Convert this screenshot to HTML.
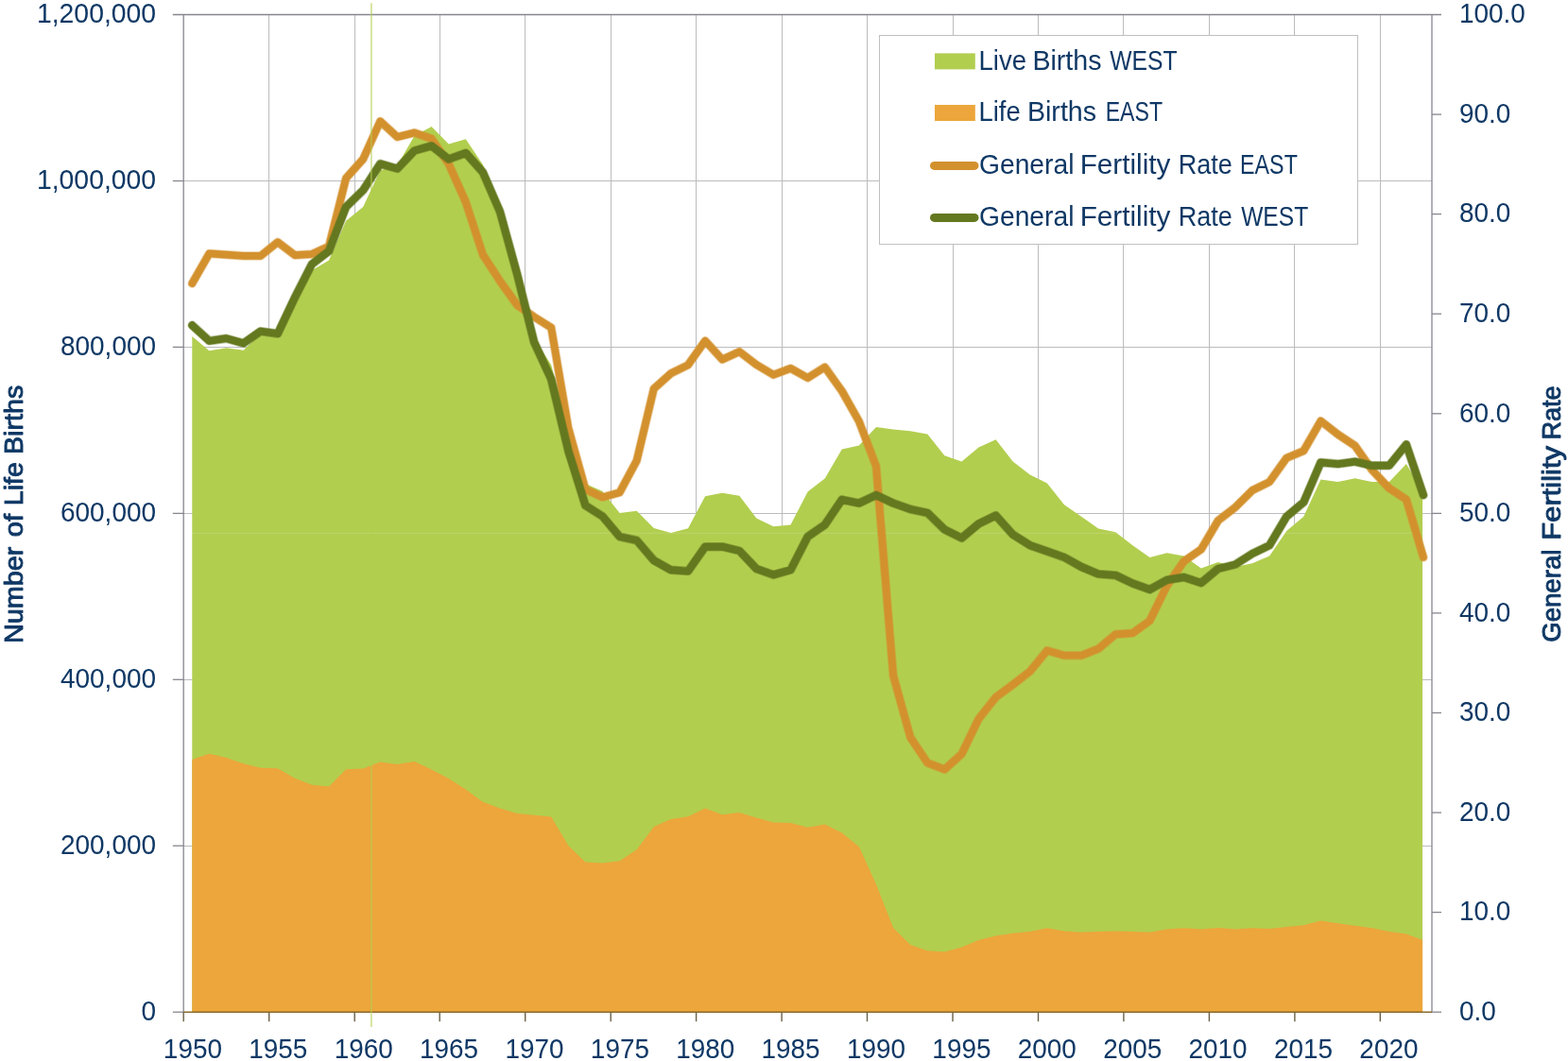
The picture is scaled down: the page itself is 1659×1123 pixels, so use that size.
<!DOCTYPE html>
<html lang="en">
<head>
<meta charset="utf-8">
<title>Live births and general fertility rate, East and West</title>
<style>
html,body{margin:0;padding:0;background:#fff;}
body{width:1659px;height:1123px;overflow:hidden;}
svg{display:block;}
text{font-family:"Liberation Sans",sans-serif;fill:#0f3865;}
.t{font-size:28.6px;}
.b{font-size:28px;stroke:#0f3865;stroke-width:0.9px;stroke-linejoin:round;}
</style>
</head>
<body>
<svg width="1659" height="1123" viewBox="0 0 1659 1123" role="img" aria-label="Number of life births and general fertility rate, East and West, 1950 to 2022">
<rect width="1659" height="1123" fill="#fff"/>
<g>
<g stroke="#bcbcbe" stroke-width="1" fill="none" shape-rendering="crispEdges">
<line x1="194.2" y1="895.2" x2="1515" y2="895.2"/>
<line x1="194.2" y1="719.3" x2="1515" y2="719.3"/>
<line x1="194.2" y1="543.4" x2="1515" y2="543.4"/>
<line x1="194.2" y1="367.4" x2="1515" y2="367.4"/>
<line x1="194.2" y1="191.5" x2="1515" y2="191.5"/>
<line x1="284.7" y1="15.5" x2="284.7" y2="1071.2"/>
<line x1="375.2" y1="15.5" x2="375.2" y2="1071.2"/>
<line x1="465.2" y1="15.5" x2="465.2" y2="1071.2"/>
<line x1="555.7" y1="15.5" x2="555.7" y2="1071.2"/>
<line x1="646.2" y1="15.5" x2="646.2" y2="1071.2"/>
<line x1="736.6" y1="15.5" x2="736.6" y2="1071.2"/>
<line x1="827.1" y1="15.5" x2="827.1" y2="1071.2"/>
<line x1="917.5" y1="15.5" x2="917.5" y2="1071.2"/>
<line x1="1008" y1="15.5" x2="1008" y2="1071.2"/>
<line x1="1098.5" y1="15.5" x2="1098.5" y2="1071.2"/>
<line x1="1188.9" y1="15.5" x2="1188.9" y2="1071.2"/>
<line x1="1279.4" y1="15.5" x2="1279.4" y2="1071.2"/>
<line x1="1369.9" y1="15.5" x2="1369.9" y2="1071.2"/>
<line x1="1460.3" y1="15.5" x2="1460.3" y2="1071.2"/>
</g>
<path d="M203.3 1071.2 L203.3 356.1 L221.4 371.3 L239.5 368.2 L257.6 370.8 L275.7 353.3 L293.8 349.7 L311.9 318.2 L329.9 286.3 L348 275.5 L366.1 233.7 L384.2 219 L402.3 180.3 L420.4 175.1 L438.5 143.8 L456.6 133.9 L474.7 152.5 L492.8 147.2 L510.9 174.3 L529 218 L547.1 276.4 L565.1 357.9 L583.2 386.3 L601.3 454.3 L619.4 512 L637.5 520.1 L655.6 542.9 L673.7 540.8 L691.8 558.9 L709.9 564.1 L728 559.2 L746.1 525.2 L764.2 521.7 L782.3 524.7 L800.3 548.5 L818.4 557.3 L836.5 555.5 L854.6 520.5 L872.7 506.4 L890.8 475.4 L908.9 471.6 L927 451.9 L945.1 454.4 L963.2 456.2 L981.3 459.5 L999.4 482.3 L1017.5 488.6 L1035.5 473.4 L1053.6 465.3 L1071.7 488.6 L1089.8 502.5 L1107.9 511.4 L1126 534.2 L1144.1 546.8 L1162.2 559.5 L1180.3 563.3 L1198.4 577.2 L1216.5 589.9 L1234.6 585.3 L1252.7 588.6 L1270.8 601.5 L1288.8 595 L1306.9 600 L1325 596.2 L1343.1 588.6 L1361.2 562 L1379.3 546.8 L1397.4 507.6 L1415.5 510.1 L1433.6 506.3 L1451.7 510.1 L1469.8 510.1 L1487.9 491.1 L1505.1 520 L1505.1 1071.2Z" fill="#b2ce4f"/>
<path d="M203.3 1071.2 L203.3 803.9 L221.4 797.8 L239.5 802 L257.6 808.2 L275.7 812.8 L293.8 813.2 L311.9 823.7 L329.9 830.7 L348 832.4 L366.1 814.3 L384.2 813.4 L402.3 806.6 L420.4 809.1 L438.5 806 L456.6 814.4 L474.7 823.9 L492.8 835.5 L510.9 848.8 L529 855.5 L547.1 861 L565.1 862.8 L583.2 864.6 L601.3 894.9 L619.4 912.5 L637.5 913.6 L655.6 911.3 L673.7 899.2 L691.8 874.9 L709.9 867 L728 864.3 L746.1 855.5 L764.2 862.2 L782.3 860 L800.3 865.6 L818.4 870.5 L836.5 870.9 L854.6 875.7 L872.7 872.4 L890.8 881.4 L908.9 896.2 L927 936 L945.1 982 L963.2 1000 L981.3 1006.3 L999.4 1007.6 L1017.5 1002.5 L1035.5 995 L1053.6 990.4 L1071.7 987.8 L1089.8 986 L1107.9 982.3 L1126 985.6 L1144.1 986.8 L1162.2 986 L1180.3 985.6 L1198.4 986 L1216.5 986.8 L1234.6 983.5 L1252.7 982.3 L1270.8 983.5 L1288.8 982 L1306.9 983.5 L1325 982.2 L1343.1 983 L1361.2 981 L1379.3 979.2 L1397.4 974.6 L1415.5 977.2 L1433.6 979.7 L1451.7 982.2 L1469.8 986 L1487.9 988.6 L1505.1 994.9 L1505.1 1071.2Z" fill="#eca63b"/>
<line x1="203.3" y1="564.3" x2="1506" y2="564.3" stroke="#fff" stroke-opacity="0.16" stroke-width="1"/>
<g stroke="#86868f" stroke-width="1.3" fill="none">
<line x1="194.2" y1="15.5" x2="194.2" y2="1071.2"/>
<line x1="1515" y1="15.5" x2="1515" y2="1071.2"/>
<line x1="182.8" y1="15.5" x2="1525" y2="15.5"/>
<line x1="182.8" y1="1071.2" x2="194.2" y2="1071.2"/>
<line x1="182.8" y1="895.2" x2="194.2" y2="895.2"/>
<line x1="182.8" y1="719.3" x2="194.2" y2="719.3"/>
<line x1="182.8" y1="543.4" x2="194.2" y2="543.4"/>
<line x1="182.8" y1="367.4" x2="194.2" y2="367.4"/>
<line x1="182.8" y1="191.5" x2="194.2" y2="191.5"/>
<line x1="1515" y1="1071.2" x2="1525" y2="1071.2"/>
<line x1="1515" y1="965.6" x2="1525" y2="965.6"/>
<line x1="1515" y1="860.1" x2="1525" y2="860.1"/>
<line x1="1515" y1="754.5" x2="1525" y2="754.5"/>
<line x1="1515" y1="648.9" x2="1525" y2="648.9"/>
<line x1="1515" y1="543.4" x2="1525" y2="543.4"/>
<line x1="1515" y1="437.8" x2="1525" y2="437.8"/>
<line x1="1515" y1="332.2" x2="1525" y2="332.2"/>
<line x1="1515" y1="226.6" x2="1525" y2="226.6"/>
<line x1="1515" y1="121.1" x2="1525" y2="121.1"/>
</g>
<g stroke="#8a6b2e" stroke-width="1.5" fill="none">
<line x1="194.2" y1="1071.2" x2="1515" y2="1071.2"/>
</g>
<g stroke="#6b6046" stroke-width="1.4" fill="none">
<line x1="194.2" y1="1071.2" x2="194.2" y2="1081.2"/>
<line x1="284.7" y1="1071.2" x2="284.7" y2="1081.2"/>
<line x1="375.2" y1="1071.2" x2="375.2" y2="1081.2"/>
<line x1="465.2" y1="1071.2" x2="465.2" y2="1081.2"/>
<line x1="555.7" y1="1071.2" x2="555.7" y2="1081.2"/>
<line x1="646.2" y1="1071.2" x2="646.2" y2="1081.2"/>
<line x1="736.6" y1="1071.2" x2="736.6" y2="1081.2"/>
<line x1="827.1" y1="1071.2" x2="827.1" y2="1081.2"/>
<line x1="917.5" y1="1071.2" x2="917.5" y2="1081.2"/>
<line x1="1008" y1="1071.2" x2="1008" y2="1081.2"/>
<line x1="1098.5" y1="1071.2" x2="1098.5" y2="1081.2"/>
<line x1="1188.9" y1="1071.2" x2="1188.9" y2="1081.2"/>
<line x1="1279.4" y1="1071.2" x2="1279.4" y2="1081.2"/>
<line x1="1369.9" y1="1071.2" x2="1369.9" y2="1081.2"/>
<line x1="1460.3" y1="1071.2" x2="1460.3" y2="1081.2"/>
</g>
<g fill="none" stroke-linejoin="round" stroke-linecap="round">
<path d="M203.3 300 L221.4 268.4 L239.5 269.6 L257.6 270.9 L275.7 270.9 L293.8 256.3 L311.9 270.1 L329.9 269 L348 260.8 L366.1 188.6 L384.2 168.4 L402.3 128.4 L420.4 145 L438.5 140.5 L456.6 146.8 L474.7 173.4 L492.8 213.9 L510.9 269.6 L529 297.5 L547.1 322.8 L565.1 335.4 L583.2 346.8 L601.3 453 L619.4 518 L637.5 526.3 L655.6 521.3 L673.7 487.5 L691.8 411.4 L709.9 395.2 L728 386.3 L746.1 360.8 L764.2 380.5 L782.3 372.2 L800.3 386 L818.4 396.7 L836.5 389.9 L854.6 400 L872.7 388.6 L890.8 413.9 L908.9 446 L927 493.5 L945.1 715 L963.2 780.3 L981.3 807.5 L999.4 814.4 L1017.5 798 L1035.5 760.8 L1053.6 738 L1071.7 724.6 L1089.8 710.6 L1107.9 688.6 L1126 693.8 L1144.1 693.8 L1162.2 686.6 L1180.3 671.4 L1198.4 670.1 L1216.5 657 L1234.6 620 L1252.7 594 L1270.8 581.5 L1288.8 551 L1306.9 537 L1325 519 L1343.1 510.1 L1361.2 484.8 L1379.3 477.2 L1397.4 445.6 L1415.5 459.8 L1433.6 471.7 L1451.7 497.5 L1469.8 516.8 L1487.9 528.6 L1506 589.9" stroke="#d3912e" stroke-width="9.4" stroke-opacity="0.5"/>
<path d="M203.3 300 L221.4 268.4 L239.5 269.6 L257.6 270.9 L275.7 270.9 L293.8 256.3 L311.9 270.1 L329.9 269 L348 260.8 L366.1 188.6 L384.2 168.4 L402.3 128.4 L420.4 145 L438.5 140.5 L456.6 146.8 L474.7 173.4 L492.8 213.9 L510.9 269.6 L529 297.5 L547.1 322.8 L565.1 335.4 L583.2 346.8 L601.3 453 L619.4 518 L637.5 526.3 L655.6 521.3 L673.7 487.5 L691.8 411.4 L709.9 395.2 L728 386.3 L746.1 360.8 L764.2 380.5 L782.3 372.2 L800.3 386 L818.4 396.7 L836.5 389.9 L854.6 400 L872.7 388.6 L890.8 413.9 L908.9 446 L927 493.5 L945.1 715 L963.2 780.3 L981.3 807.5 L999.4 814.4 L1017.5 798 L1035.5 760.8 L1053.6 738 L1071.7 724.6 L1089.8 710.6 L1107.9 688.6 L1126 693.8 L1144.1 693.8 L1162.2 686.6 L1180.3 671.4 L1198.4 670.1 L1216.5 657 L1234.6 620 L1252.7 594 L1270.8 581.5 L1288.8 551 L1306.9 537 L1325 519 L1343.1 510.1 L1361.2 484.8 L1379.3 477.2 L1397.4 445.6 L1415.5 459.8 L1433.6 471.7 L1451.7 497.5 L1469.8 516.8 L1487.9 528.6 L1506 589.9" stroke="#d3912e" stroke-width="7.6"/>
<path d="M203.3 344.3 L221.4 360.8 L239.5 358.2 L257.6 363.3 L275.7 350.6 L293.8 353.2 L311.9 315 L329.9 279.7 L348 265.8 L366.1 219 L384.2 201.3 L402.3 173.4 L420.4 178.5 L438.5 159.5 L456.6 154.4 L474.7 168.4 L492.8 162 L510.9 182.3 L529 224 L547.1 289.9 L565.1 362 L583.2 401.3 L601.3 477.2 L619.4 535 L637.5 546.5 L655.6 568 L673.7 572 L691.8 593.2 L709.9 603.3 L728 604.6 L746.1 578.7 L764.2 578.7 L782.3 583 L800.3 602 L818.4 608.4 L836.5 603.3 L854.6 568 L872.7 555.5 L890.8 528.8 L908.9 532.6 L927 524 L945.1 532.6 L963.2 539 L981.3 542.8 L999.4 560.5 L1017.5 569.5 L1035.5 554.4 L1053.6 545.6 L1071.7 565.8 L1089.8 577.2 L1107.9 583.5 L1126 589.9 L1144.1 600 L1162.2 607.6 L1180.3 608.9 L1198.4 617.5 L1216.5 624 L1234.6 613.9 L1252.7 611 L1270.8 617 L1288.8 602 L1306.9 597.5 L1325 586 L1343.1 577.2 L1361.2 546.8 L1379.3 531.6 L1397.4 489.4 L1415.5 491.1 L1433.6 488.6 L1451.7 492.8 L1469.8 492.8 L1487.9 470.4 L1506 524" stroke="#64781f" stroke-width="9.5" stroke-opacity="0.5"/>
<path d="M203.3 344.3 L221.4 360.8 L239.5 358.2 L257.6 363.3 L275.7 350.6 L293.8 353.2 L311.9 315 L329.9 279.7 L348 265.8 L366.1 219 L384.2 201.3 L402.3 173.4 L420.4 178.5 L438.5 159.5 L456.6 154.4 L474.7 168.4 L492.8 162 L510.9 182.3 L529 224 L547.1 289.9 L565.1 362 L583.2 401.3 L601.3 477.2 L619.4 535 L637.5 546.5 L655.6 568 L673.7 572 L691.8 593.2 L709.9 603.3 L728 604.6 L746.1 578.7 L764.2 578.7 L782.3 583 L800.3 602 L818.4 608.4 L836.5 603.3 L854.6 568 L872.7 555.5 L890.8 528.8 L908.9 532.6 L927 524 L945.1 532.6 L963.2 539 L981.3 542.8 L999.4 560.5 L1017.5 569.5 L1035.5 554.4 L1053.6 545.6 L1071.7 565.8 L1089.8 577.2 L1107.9 583.5 L1126 589.9 L1144.1 600 L1162.2 607.6 L1180.3 608.9 L1198.4 617.5 L1216.5 624 L1234.6 613.9 L1252.7 611 L1270.8 617 L1288.8 602 L1306.9 597.5 L1325 586 L1343.1 577.2 L1361.2 546.8 L1379.3 531.6 L1397.4 489.4 L1415.5 491.1 L1433.6 488.6 L1451.7 492.8 L1469.8 492.8 L1487.9 470.4 L1506 524" stroke="#64781f" stroke-width="7.9"/>
</g>
<line x1="392.9" y1="3.2" x2="392.9" y2="1087" stroke="#b2ce4f" stroke-width="1.4" stroke-opacity="0.75"/>
<rect x="930.2" y="37.2" width="506.3" height="221.5" fill="#fff" stroke="#c0c0c2" stroke-width="1" shape-rendering="crispEdges"/>
<rect x="989" y="56.4" width="42.8" height="17" fill="#b2ce4f"/>
<rect x="989" y="111" width="42.8" height="17" fill="#eca63b"/>
<line x1="988.5" y1="175.4" x2="1031" y2="175.4" stroke="#d3912e" stroke-width="9" stroke-linecap="round"/>
<line x1="988.5" y1="230.4" x2="1031" y2="230.4" stroke="#64781f" stroke-width="9" stroke-linecap="round"/>
<text class="t" y="73.7"><tspan x="1035.53" textLength="50.5" lengthAdjust="spacingAndGlyphs">Live</tspan> <tspan x="1092.44" textLength="72.99" lengthAdjust="spacingAndGlyphs">Births</tspan> <tspan x="1174.18" textLength="71.31" lengthAdjust="spacingAndGlyphs">WEST</tspan></text>
<text class="t" y="128.2"><tspan x="1035.54" textLength="44.19" lengthAdjust="spacingAndGlyphs">Life</tspan> <tspan x="1086.94" textLength="73.09" lengthAdjust="spacingAndGlyphs">Births</tspan> <tspan x="1169.69" textLength="60.37" lengthAdjust="spacingAndGlyphs">EAST</tspan></text>
<text class="t" y="184.3"><tspan x="1035.99" textLength="100.42" lengthAdjust="spacingAndGlyphs">General</tspan> <tspan x="1142.65" textLength="95.82" lengthAdjust="spacingAndGlyphs">Fertility</tspan> <tspan x="1246.77" textLength="57.15" lengthAdjust="spacingAndGlyphs">Rate</tspan> <tspan x="1312.08" textLength="60.79" lengthAdjust="spacingAndGlyphs">EAST</tspan></text>
<text class="t" y="239.3"><tspan x="1035.99" textLength="100.42" lengthAdjust="spacingAndGlyphs">General</tspan> <tspan x="1142.65" textLength="95.82" lengthAdjust="spacingAndGlyphs">Fertility</tspan> <tspan x="1246.77" textLength="57.15" lengthAdjust="spacingAndGlyphs">Rate</tspan> <tspan x="1313.18" textLength="71.01" lengthAdjust="spacingAndGlyphs">WEST</tspan></text>
<text class="t" text-anchor="end" transform="translate(165.1 1079.9) scale(0.979 1)">0</text>
<text class="t" text-anchor="end" transform="translate(165.1 904) scale(0.979 1)">200,000</text>
<text class="t" text-anchor="end" transform="translate(165.1 728) scale(0.979 1)">400,000</text>
<text class="t" text-anchor="end" transform="translate(165.1 552.1) scale(0.979 1)">600,000</text>
<text class="t" text-anchor="end" transform="translate(165.1 376.1) scale(0.979 1)">800,000</text>
<text class="t" text-anchor="end" transform="translate(165.1 200.2) scale(0.992 1)">1,000,000</text>
<text class="t" text-anchor="end" transform="translate(165.1 24.2) scale(0.992 1)">1,200,000</text>
<text class="t" transform="translate(1544 1079.9) scale(0.977 1)">0.0</text>
<text class="t" transform="translate(1544 974.3) scale(0.977 1)">10.0</text>
<text class="t" transform="translate(1544 868.8) scale(0.977 1)">20.0</text>
<text class="t" transform="translate(1544 763.2) scale(0.977 1)">30.0</text>
<text class="t" transform="translate(1544 657.6) scale(0.977 1)">40.0</text>
<text class="t" transform="translate(1544 552.1) scale(0.977 1)">50.0</text>
<text class="t" transform="translate(1544 446.5) scale(0.977 1)">60.0</text>
<text class="t" transform="translate(1544 340.9) scale(0.977 1)">70.0</text>
<text class="t" transform="translate(1544 235.3) scale(0.977 1)">80.0</text>
<text class="t" transform="translate(1544 129.8) scale(0.977 1)">90.0</text>
<text class="t" transform="translate(1544 24.2) scale(0.977 1)">100.0</text>
<text class="t" text-anchor="middle" transform="translate(203.9 1120) scale(0.976 1)">1950</text>
<text class="t" text-anchor="middle" transform="translate(294.3 1120) scale(0.976 1)">1955</text>
<text class="t" text-anchor="middle" transform="translate(384.7 1120) scale(0.976 1)">1960</text>
<text class="t" text-anchor="middle" transform="translate(475.1 1120) scale(0.976 1)">1965</text>
<text class="t" text-anchor="middle" transform="translate(565.5 1120) scale(0.976 1)">1970</text>
<text class="t" text-anchor="middle" transform="translate(655.9 1120) scale(0.976 1)">1975</text>
<text class="t" text-anchor="middle" transform="translate(746.3 1120) scale(0.976 1)">1980</text>
<text class="t" text-anchor="middle" transform="translate(836.6 1120) scale(0.976 1)">1985</text>
<text class="t" text-anchor="middle" transform="translate(927 1120) scale(0.976 1)">1990</text>
<text class="t" text-anchor="middle" transform="translate(1017.4 1120) scale(0.976 1)">1995</text>
<text class="t" text-anchor="middle" transform="translate(1107.8 1120) scale(0.976 1)">2000</text>
<text class="t" text-anchor="middle" transform="translate(1198.2 1120) scale(0.976 1)">2005</text>
<text class="t" text-anchor="middle" transform="translate(1288.6 1120) scale(0.976 1)">2010</text>
<text class="t" text-anchor="middle" transform="translate(1379 1120) scale(0.976 1)">2015</text>
<text class="t" text-anchor="middle" transform="translate(1469.4 1120) scale(0.976 1)">2020</text>
<text class="b" transform="translate(24.2 0) rotate(-90)"><tspan x="-681.11" textLength="102.43" lengthAdjust="spacingAndGlyphs">Number</tspan> <tspan x="-568.17" textLength="24.37" lengthAdjust="spacingAndGlyphs">of</tspan> <tspan x="-535.2" textLength="46.23" lengthAdjust="spacingAndGlyphs">Life</tspan> <tspan x="-481" textLength="73.28" lengthAdjust="spacingAndGlyphs">Births</tspan></text>
<text class="b" transform="translate(1650.8 0) rotate(-90)"><tspan x="-679.84" textLength="98.26" lengthAdjust="spacingAndGlyphs">General</tspan> <tspan x="-571.76" textLength="99.83" lengthAdjust="spacingAndGlyphs">Fertility</tspan> <tspan x="-465.6" textLength="57.28" lengthAdjust="spacingAndGlyphs">Rate</tspan></text>
</g>
</svg>
</body>
</html>
